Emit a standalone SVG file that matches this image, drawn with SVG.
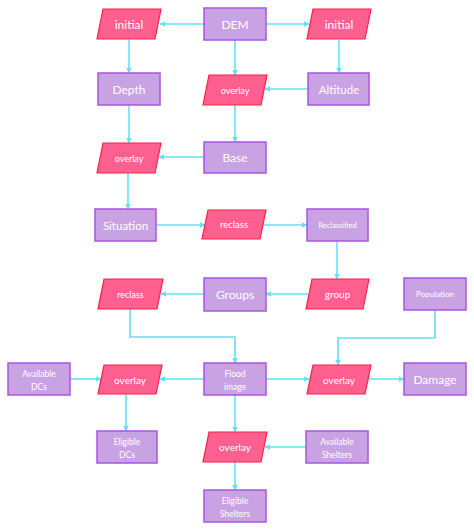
<svg xmlns="http://www.w3.org/2000/svg" width="474" height="530" viewBox="0 0 474 530">
<style>
.r{fill:#c9a2e4;stroke:#a855e0;stroke-width:1.5}
.p{fill:#ff6090;stroke:#ff2040;stroke-width:1.2}
.t{font-family:Lato,"Open Sans","Liberation Sans",sans-serif;fill:#ffffff;text-anchor:middle;dominant-baseline:central}
.c{fill:none;stroke:#62e2f2;stroke-width:1.6}
</style>
<defs>
<marker id="a" viewBox="0 0 10 10" refX="9" refY="5" markerWidth="6" markerHeight="6" orient="auto" markerUnits="userSpaceOnUse">
<path d="M0,0 L10,5 L0,10 z" fill="#62e2f2"/>
</marker>
</defs>
<rect width="474" height="530" fill="#ffffff"/>
<g id="connectors">
<path class="c" marker-end="url(#a)" d="M204,24 H160"/>
<path class="c" marker-end="url(#a)" d="M266,24 H309"/>
<path class="c" marker-end="url(#a)" d="M129,39 V73"/>
<path class="c" marker-end="url(#a)" d="M235,40 V75"/>
<path class="c" marker-end="url(#a)" d="M339,39 V73"/>
<path class="c" marker-end="url(#a)" d="M308,89 H265"/>
<path class="c" marker-end="url(#a)" d="M129,105 V143"/>
<path class="c" marker-end="url(#a)" d="M235,105 V142"/>
<path class="c" marker-end="url(#a)" d="M204,157 H159"/>
<path class="c" marker-end="url(#a)" d="M128,173 V209"/>
<path class="c" marker-end="url(#a)" d="M156,225 H205"/>
<path class="c" marker-end="url(#a)" d="M263,225 H307"/>
<path class="c" marker-end="url(#a)" d="M337,241 V279"/>
<path class="c" marker-end="url(#a)" d="M308,294 H266"/>
<path class="c" marker-end="url(#a)" d="M204,294 H161"/>
<path class="c" marker-end="url(#a)" d="M130,309 V337 H235 V363"/>
<path class="c" marker-end="url(#a)" d="M435,310 V338 H338 V365"/>
<path class="c" marker-end="url(#a)" d="M204,379 H160"/>
<path class="c" marker-end="url(#a)" d="M70,379 H101"/>
<path class="c" marker-end="url(#a)" d="M266,379 H309"/>
<path class="c" marker-end="url(#a)" d="M368,379 H404"/>
<path class="c" marker-end="url(#a)" d="M126,394 V431"/>
<path class="c" marker-end="url(#a)" d="M235,395 V432"/>
<path class="c" marker-end="url(#a)" d="M306,447 H265"/>
<path class="c" marker-end="url(#a)" d="M235,462 V490"/>
</g>
<g id="initial1"><polygon class="p" points="103,9 161,9 155,39 97,39"/><text class="t" x="129" y="24" font-size="12">initial</text></g>
<g id="dem"><rect class="r" x="204" y="8" width="62" height="32"/><text class="t" x="235" y="24" font-size="12">DEM</text></g>
<g id="initial2"><polygon class="p" points="313,9 371,9 365,39 307,39"/><text class="t" x="339" y="24" font-size="12">initial</text></g>
<g id="depth"><rect class="r" x="98" y="73" width="62" height="32"/><text class="t" x="129" y="89" font-size="12">Depth</text></g>
<g id="overlay1"><polygon class="p" points="209,75 267,75 261,105 203,105"/><text class="t" x="235" y="90" font-size="9">overlay</text></g>
<g id="altitude"><rect class="r" x="308" y="73" width="61" height="32"/><text class="t" x="339" y="89" font-size="11.5">Altitude</text></g>
<g id="overlay2"><polygon class="p" points="103,143 161,143 155,173 97,173"/><text class="t" x="129" y="158" font-size="9">overlay</text></g>
<g id="base"><rect class="r" x="204" y="142" width="62" height="31"/><text class="t" x="235" y="157.5" font-size="12">Base</text></g>
<g id="situation"><rect class="r" x="95" y="209" width="61" height="32"/><text class="t" x="125.5" y="225" font-size="11.5">Situation</text></g>
<g id="reclass1"><polygon class="p" points="208,210 266,210 260,239 202,239"/><text class="t" x="234" y="224.5" font-size="9.5">reclass</text></g>
<g id="reclassified"><rect class="r" x="307" y="209" width="61" height="32"/><text class="t" x="337.5" y="225" font-size="7.5">Reclassified</text></g>
<g id="reclass2"><polygon class="p" points="104,279 163,279 157,309 98,309"/><text class="t" x="130.5" y="294" font-size="9">reclass</text></g>
<g id="groups"><rect class="r" x="204" y="278" width="62" height="33"/><text class="t" x="235" y="294.5" font-size="12">Groups</text></g>
<g id="group"><polygon class="p" points="312,279 369,279 363,309 306,309"/><text class="t" x="337.5" y="294" font-size="10">group</text></g>
<g id="population"><rect class="r" x="404" y="278" width="62" height="32"/><text class="t" x="435" y="294" font-size="8">Population</text></g>
<g id="availabledcs"><rect class="r" x="8" y="363" width="62" height="32"/><text class="t" x="39" y="373.5" font-size="8.5">Available</text><text class="t" x="39" y="386.5" font-size="8.5">DCs</text></g>
<g id="overlay3"><polygon class="p" points="104,365 162,365 156,394 98,394"/><text class="t" x="130" y="379.5" font-size="10">overlay</text></g>
<g id="floodimage"><rect class="r" x="204" y="363" width="62" height="32"/><text class="t" x="235" y="373.5" font-size="8.5">Flood</text><text class="t" x="235" y="386.5" font-size="8.5">image</text></g>
<g id="overlay4"><polygon class="p" points="313,365 371,365 365,394 307,394"/><text class="t" x="339" y="379.5" font-size="10">overlay</text></g>
<g id="damage"><rect class="r" x="404" y="363" width="62" height="32"/><text class="t" x="435" y="379" font-size="12">Damage</text></g>
<g id="eligibledcs"><rect class="r" x="97" y="431" width="60" height="32"/><text class="t" x="127" y="441.5" font-size="8.5">Eligible</text><text class="t" x="127" y="454.5" font-size="8.5">DCs</text></g>
<g id="overlay5"><polygon class="p" points="209,432 267,432 261,462 203,462"/><text class="t" x="235" y="447" font-size="10">overlay</text></g>
<g id="availableshelters"><rect class="r" x="306" y="431" width="62" height="32"/><text class="t" x="337" y="441.5" font-size="8.5">Available</text><text class="t" x="337" y="454.5" font-size="8.5">Shelters</text></g>
<g id="eligibleshelters"><rect class="r" x="204" y="490" width="62" height="32"/><text class="t" x="235" y="500.5" font-size="8.5">Eligible</text><text class="t" x="235" y="513.5" font-size="8.5">Shelters</text></g>
</svg>
